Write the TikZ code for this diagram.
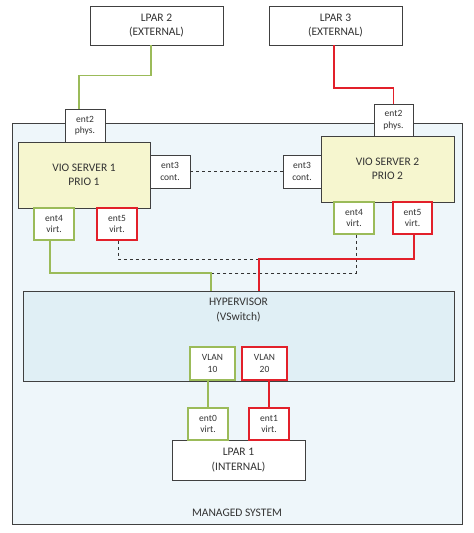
\documentclass[tikz,border=0pt]{standalone}
\usepackage{fontspec}
\setmainfont{Carlito}
\definecolor{lgreen}{HTML}{9BBB59}
\definecolor{lred}{HTML}{E2202A}
\definecolor{sysblue}{HTML}{EEF6FA}
\definecolor{hypblue}{HTML}{E0EFF5}
\definecolor{vioyellow}{HTML}{F6F6CF}
\definecolor{txt}{HTML}{333333}
\tikzset{
  port/.style={draw=black!75,fill=white,line width=0.8pt,inner sep=0pt,align=center,
    minimum width=40pt,minimum height=32pt,text=txt,font=\fontsize{9.5}{11.5}\selectfont},
  gport/.style={port,draw=lgreen,line width=1.5pt},
  rport/.style={port,draw=lred,line width=1.5pt},
  bigbox/.style={draw=black!75,fill=white,line width=0.8pt,inner sep=0pt,align=center,
    minimum width=133pt,minimum height=39pt,text=txt,font=\fontsize{11.5}{14.5}\selectfont},
  grn/.style={draw=lgreen,line width=1.6pt},
  rd/.style={draw=lred,line width=1.6pt},
  dsh/.style={draw=black!80,dashed,line width=0.7pt}
}
\begin{document}
\begin{tikzpicture}[x=1pt,y=-1pt]
\useasboundingbox (0,0) rectangle (474,533);
% managed system
\node[bigbox,fill=sysblue,minimum width=450pt,minimum height=401pt] (sys) at (237,323.5) {};
\node[text=txt,font=\fontsize{11.5}{14.5}\selectfont] (systxt) at (237,513) {MANAGED SYSTEM};
% hypervisor
\node[bigbox,fill=hypblue,minimum width=431pt,minimum height=90pt] (hyp) at (238.5,336) {};
\node[text=txt,align=center,font=\fontsize{11.5}{14.5}\selectfont] (hyptxt) at (238.5,310) {HYPERVISOR\\(VSwitch)};
% external lpars
\node[bigbox] (lpar2) at (156.5,25.5) {LPAR 2\\(EXTERNAL)};
\node[bigbox] (lpar3) at (335.5,25.5) {LPAR 3\\(EXTERNAL)};
% vio servers
\node[bigbox,fill=vioyellow,minimum width=132pt,minimum height=66pt] (vio1) at (84,175) {VIO SERVER 1\\PRIO 1};
\node[bigbox,fill=vioyellow,minimum height=66pt] (vio2) at (387.5,169) {VIO SERVER 2\\PRIO 2};
\node[port,minimum height=33pt] (ent2a) at (85,125.5) {ent2\\phys.};
\node[port,minimum width=39pt] (ent2b) at (393.5,120) {ent2\\phys.};
\node[port,minimum height=33pt] (ent3a) at (170,171.5) {ent3\\cont.};
\node[port,minimum width=38pt,minimum height=33pt] (ent3b) at (302,171.5) {ent3\\cont.};
\node[gport] (ent4a) at (54,224) {ent4\\virt.};
\node[rport] (ent5a) at (117,224) {ent5\\virt.};
\node[gport] (ent4b) at (354,218) {ent4\\virt.};
\node[rport,minimum width=39pt] (ent5b) at (412.5,218) {ent5\\virt.};
% vlans and internal lpar
\node[gport,minimum width=45pt,minimum height=33pt] (vlan10) at (212.5,363.5) {VLAN\\10};
\node[rport,minimum width=45pt,minimum height=33pt] (vlan20) at (264.5,363.5) {VLAN\\20};
\node[bigbox,minimum height=40pt] (lpar1) at (238.5,460) {LPAR 1\\(INTERNAL)};
\node[gport] (ent0) at (208,424) {ent0\\virt.};
\node[rport] (ent1) at (269,424) {ent1\\virt.};
% connections
\coordinate (gjoin) at (211,273);
\coordinate (rjoin) at (259,259);
\draw[grn] ([xshift=-5.5pt]lpar2.south) |- ++(-72,30) -- ([xshift=-6pt]ent2a.north);
\draw[rd] ([xshift=-1.5pt]lpar3.south) |- (ent2b.north |- 0,88) -- (ent2b.north);
\draw[dsh] (ent3a) -- (ent3b);
\draw[dsh] ([xshift=1pt]ent5a.south) |- (rjoin);
\draw[dsh] ([xshift=2pt]ent4b.south) |- (gjoin);
\draw[grn] ([xshift=-4pt]ent4a.south) |- (gjoin) -- (gjoin |- hyp.north);
\draw[rd] ([xshift=1.5pt]ent5b.south) |- (rjoin) -- (rjoin |- hyp.north);
\draw[grn] (ent0.north |- vlan10.south) -- (ent0.north);
\draw[rd] (ent1.north |- vlan20.south) -- (ent1.north);
\end{tikzpicture}
\end{document}
